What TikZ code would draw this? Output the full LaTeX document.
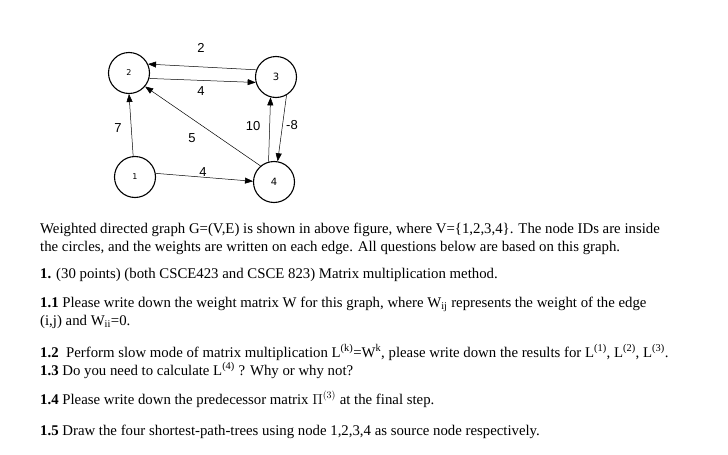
\documentclass[tikz,border=0pt]{standalone}
\usepackage{fontspec}
\setmainfont{Liberation Serif}
\newfontfamily\lab{Liberation Sans}
\newfontfamily\vnode{DejaVu Sans}
\usetikzlibrary{arrows.meta}
\begin{document}
\begin{tikzpicture}[x=1pt,y=-1pt,
  vtx/.style={draw,circle,minimum size=41pt,inner sep=0pt,font=\vnode\fontsize{8}{9}\selectfont,line width=1.1pt},
  edge/.style={draw,-{Triangle[length=8pt,width=6pt]},line width=0.5pt},
  wl/.style={font=\lab\fontsize{13}{15}\selectfont},
  txt/.style={anchor=base west,inner sep=0pt,font=\fontsize{14.8}{17}\selectfont}]
\useasboundingbox (0,0) rectangle (728,455);
\node[vtx] (n2) at (129,73) {2};
\node[vtx] (n3) at (276,77) {\fontsize{10}{11}\selectfont 3};
\node[vtx] (n1) at (135,177) {1};
\node[vtx] (n4) at (274,182) {\fontsize{10}{11}\selectfont 4};
\draw[edge] (n3.160) -- (n2.25);
\draw[edge] (n2.-15) -- (n3.195);
\draw[edge] (n4.130) -- (n2.-40);
\draw[edge] (n1.95) -- (n2.-90);
\draw[edge] (n1.10) -- (n4.178);
\draw[edge] (n4.105) -- (n3.-105);
\draw[edge] (n3.-60) -- (n4.80);
\node[wl] (w32) at (201,48) {2};
\node[wl] (w23) at (201,91) {4};
\node[wl] (w12) at (118,128) {7};
\node[wl] (w42) at (192,138) {5};
\node[wl] (w14) at (203,172) {4};
\node[wl] (w43) at (253,126) {10};
\node[wl] (w34) at (292,125) {-8};
\node[txt] (t1) at (40,233) {Weighted directed graph G=(V,E) is shown in above figure, where V=\{1,2,3,4\}. The node IDs are inside};
\node[txt] (t2) at (40,251) {the circles, and the weights are written on each edge. All questions below are based on this graph.};
\node[txt] (t3) at (40,278) {\textbf{1.} (30 points) (both CSCE423 and CSCE 823) Matrix multiplication method.};
\node[txt] (t4) at (40,307) {\textbf{1.1} Please write down the weight matrix W for this graph, where W\textsubscript{ij} represents the weight of the edge};
\node[txt] (t5) at (40,325) {(i,j) and W\textsubscript{ii}=0.};
\node[txt] (t6) at (40,357) {\textbf{1.2}\ \ Perform slow mode of matrix multiplication L\textsuperscript{(k)}=W\textsuperscript{k}, please write down the results for L\textsuperscript{(1)}, L\textsuperscript{(2)}, L\textsuperscript{(3)}.};
\node[txt] (t7) at (40,375) {\textbf{1.3} Do you need to calculate L\textsuperscript{(4)} ? Why or why not?};
\node[txt] (t8) at (40,404) {\textbf{1.4} Please write down the predecessor matrix $\Pi^{(3)}$ at the final step.};
\node[txt] (t9) at (40,435) {\textbf{1.5} Draw the four shortest-path-trees using node 1,2,3,4 as source node respectively.};
\end{tikzpicture}
\end{document}
